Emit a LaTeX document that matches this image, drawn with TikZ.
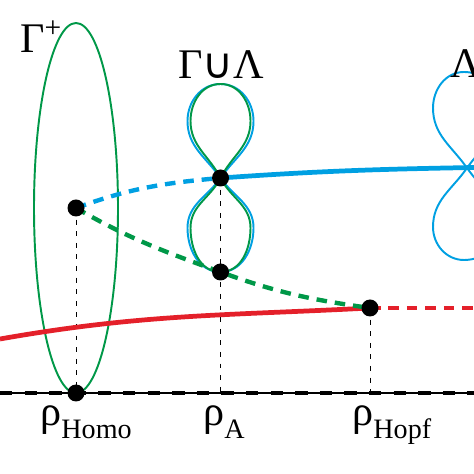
\documentclass[tikz,border=0pt]{standalone}
\usepackage{fontspec}
\setmainfont{Liberation Serif}
\newfontfamily\cupfont{DejaVu Sans}

\definecolor{orbitgreen}{RGB}{0,152,72}
\definecolor{orbitblue}{RGB}{0,160,226}
\definecolor{eqred}{RGB}{228,32,42}

% rho with a lowered subscript
\newcommand{\rholabel}[1]{ρ\raisebox{-0.27cm}{\fontsize{16}{16}\selectfont #1}}

\begin{document}
\begin{tikzpicture}[
		line join=round,
		font=\fontsize{24}{28}\selectfont,
		stable/.style={line width=2.7pt},
		unstable/.style={line width=2.5pt, dash pattern=on 6pt off 4.5pt},
		orbit/.style={line width=1.1pt},
		guide/.style={line width=0.5pt, dash pattern=on 2.8pt off 3.8pt},
		lbl/.style={anchor=base west, inner sep=0pt}
		]
		
		\useasboundingbox (0,-1.62) rectangle (9.48,7.86);
		\clip (0,-1.62) rectangle (9.48,7.86);
		
		% Points
		\coordinate (axl) at (0,0);
		\coordinate (axr) at (9.48,0);
		\coordinate (homo) at (1.52,0);
		\coordinate (p) at (1.52,3.70);
		\coordinate (au) at (4.41,4.30);
		\coordinate (al) at (4.41,2.42);
		\coordinate (ax) at (4.41,0);
		\coordinate (hopf) at (7.40,1.70);
		\coordinate (hx) at (7.40,0);
		\coordinate (lam) at (9.34,4.50);
		\coordinate (redl) at (0,1.08);
		\coordinate (redr) at (9.48,1.70);
		\coordinate (bluer) at (9.48,4.51);
		
		% Orbit Gamma+
		\draw[orbit, orbitgreen] (p) ellipse (0.84 and 3.70);
		
		% Figure eight at rho_A
		\foreach \col/\w/\a in {orbitblue/0.66/125, orbitgreen/0.60/117}{
			\draw[orbit, \col] (au)
				to[out=\a,in=270] ++(-\w,1.14) to[out=90,in=180] ++(\w,0.74)
				to[out=0,in=90] ++(\w,-0.74) to[out=270,in=180-\a] ++(-\w,-1.14)
				to[out=360-\a,in=90] ++(-\w,-1.0) to[out=270,in=180] ++(\w,-0.88)
				to[out=0,in=270] ++(\w,0.88) to[out=90,in=\a-180] ++(-\w,1.0);
		}
		
		% Figure eight Lambda
		\draw[orbit, orbitblue] (lam)
			to[out=125,in=270] ++(-0.68,1.20) to[out=90,in=180] ++(0.62,0.72)
			to[out=0,in=90] ++(0.74,-0.72) to[out=270,in=55] ++(-0.68,-1.20)
			to[out=235,in=90] ++(-0.68,-1.18) to[out=270,in=180] ++(0.62,-0.66)
			to[out=0,in=270] ++(0.74,0.66) to[out=90,in=305] ++(-0.68,1.18);
		
		% Guides
		\draw[guide] (p) -- (homo);
		\draw[guide] (au) -- (ax);
		\draw[guide] (hopf) -- (hx);
		
		% Branches
		\draw[stable, eqred] (redl) to[out=10,in=183] (hopf);
		\draw[unstable, eqred] (hopf) -- (redr);
		\draw[unstable, orbitgreen] (p) to[out=-30,in=160] (al) to[out=-20,in=172] (hopf);
		\draw[unstable, orbitblue] (p) to[out=20,in=185] (au);
		\draw[stable, orbitblue] (au) to[out=4,in=181] (bluer);
		
		% Axis
		\draw[line width=0.6pt] (axl) -- (axr);
		\draw[line width=2.7pt, dash pattern=on 7pt off 7pt] (axl) -- (axr);
		
		% Dots
		\foreach \c in {homo,p,au,al,hopf}{
			\fill (\c) circle (0.17);
		}
		
		% Labels
		\node[lbl] (gplus) at (0.40,6.80) {Γ\textsuperscript{+}};
		\node[anchor=base, inner sep=0pt] (gul) at (4.43,6.28) {Γ{\cupfont ∪}Λ};
		\node[lbl] (lamlab) at (9.00,6.30) {Λ};
		\node[lbl] (lhomo) at (0.80,-0.64) {\rholabel{Homo}};
		\node[lbl] (la) at (4.06,-0.64) {\rholabel{A}};
		\node[lbl] (lhopf) at (7.04,-0.64) {\rholabel{Hopf}};
		
	\end{tikzpicture}
\end{document}
